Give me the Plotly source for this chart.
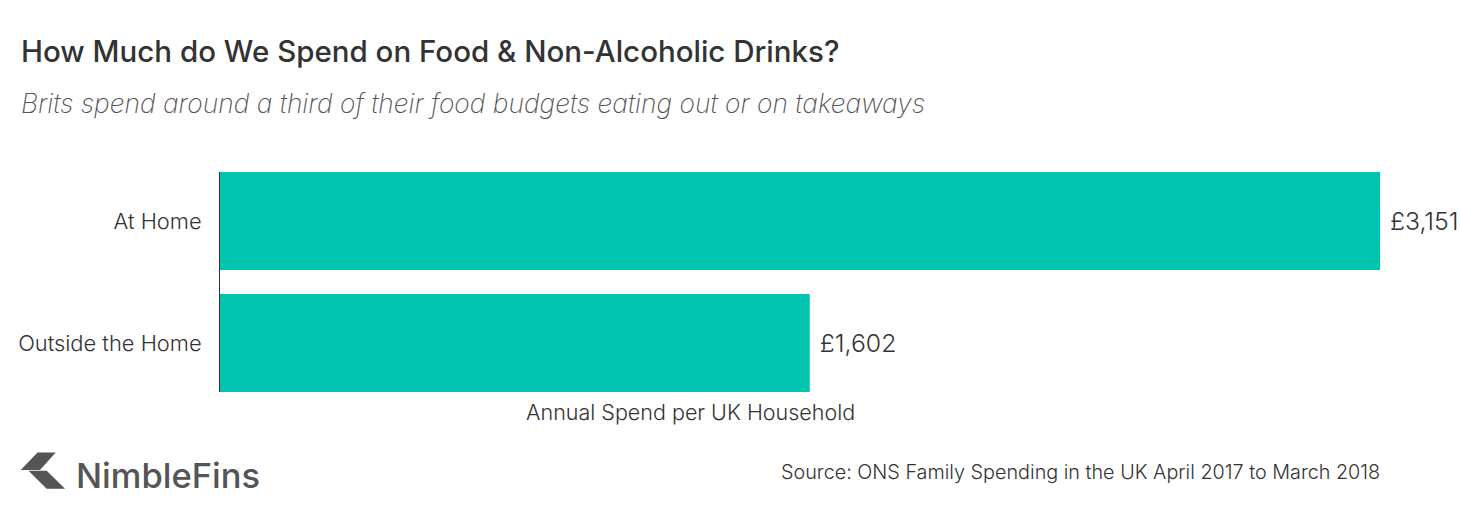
import plotly.graph_objects as go

W, H = 1460, 520
L, R, T, B = 220, 80, 172, 128

categories = ["At Home", "Outside the Home"]
spend = [3151, 1602]
spend_labels = ["£3,151", "£1,602"]

title = "How Much do We Spend on Food & Non-Alcoholic Drinks?"
subtitle = "Brits spend around a third of their food budgets eating out or on takeaways"
axis_label = "Annual Spend per UK Household"
source = "Source: ONS Family Spending in the UK April 2017 to March 2018"
logo_text = "NimbleFins"

# logo outline in page pixels
logo_top = [(20.7, 470), (37.5, 452.5), (55.7, 452.5), (40, 470)]
logo_bottom = [(28.5, 470.8), (46.7, 470.8), (65, 488.7), (46.7, 488.7)]

FONT = "Inter"
DARK = "#333333"
TEAL = "#00c4ad"


# page pixels to paper coordinates
def px(x):
    return (x - L) / (W - L - R)


def py(y):
    return (H - B - y) / (H - T - B)


def logo_path(points):
    return "M " + " L ".join(f"{px(x)},{py(y)}" for x, y in points) + " Z"


def note(text, x, y, size, anchor="left", color=DARK, italic=False, weight=400):
    return dict(
        text=text, xref="paper", yref="paper", x=px(x), y=py(y),
        xanchor=anchor, yanchor="middle", showarrow=False,
        font=dict(family=FONT, size=size, color=color,
                  style="italic" if italic else "normal", weight=weight),
    )


fig = go.Figure(go.Bar(
    x=spend,
    y=categories,
    orientation="h",
    marker=dict(color=TEAL, line=dict(width=0)),
    text=spend_labels,
    texttemplate="\u00a0%{text}",
    textposition="outside",
    cliponaxis=False,
    textfont=dict(family=FONT, size=24.8, color=DARK, weight=300),
    hoverinfo="skip",
))

fig.update_layout(
    width=W,
    height=H,
    margin=dict(l=L, r=R, t=T, b=B, pad=0),
    paper_bgcolor="white",
    plot_bgcolor="white",
    showlegend=False,
    bargap=0.197,
    annotations=[
        note(title, 19, 51, 29.5, weight=500),
        note(subtitle, 19, 103, 26.4, color="#555555", italic=True, weight=200),
        note(axis_label, 690, 412, 21.5, anchor="center", weight=300),
        note(source, 1382, 472, 19.8, anchor="right", weight=300),
        note(logo_text, 74, 475, 34.5, color="#555555", weight=500),
    ],
    shapes=[
        dict(type="path", path=logo_path(logo_top), xref="paper", yref="paper",
             fillcolor="#555555", line=dict(width=0)),
        dict(type="path", path=logo_path(logo_bottom), xref="paper", yref="paper",
             fillcolor="#555555", line=dict(width=0)),
    ],
)
fig.update_xaxes(range=[0, 3151], visible=False)
fig.update_yaxes(
    range=[1.4016, -0.4016],
    showline=True,
    linecolor=DARK,
    linewidth=1,
    showgrid=False,
    zeroline=False,
    ticks="",
    ticklabelstandoff=13,
    tickfont=dict(family=FONT, size=21.9, color=DARK, weight=300),
)

# the page's default body margin would push the chart 8px in
fig.write_html("out.html", config=dict(displayModeBar=False),
               post_script="document.body.style.margin = '0';")
